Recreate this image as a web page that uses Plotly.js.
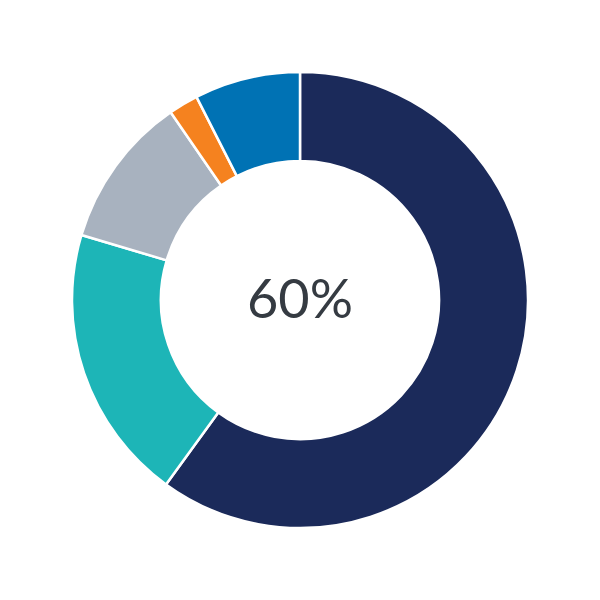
<!DOCTYPE html>
<html>
<head>
<meta charset="utf-8">
<script src="https://cdn.plot.ly/plotly-3.0.1.min.js"></script>
<style>html,body{margin:0;padding:0;background:#fff;}#chart{width:600px;height:600px;}</style>
</head>
<body>
<div id="chart"></div>
<script>
var labels = ["Navy", "Teal", "Gray", "Orange", "Blue"];
var values = [60, 19.6, 10.8, 2.1, 7.5];
var colors = ["#1b2a5a", "#1db5b7", "#a8b2bf", "#f5821f", "#0072b4"];
var centerLabel = "60%";

var data = [{
  type: "pie",
  labels: labels,
  values: values,
  hole: 0.61,
  sort: false,
  direction: "clockwise",
  rotation: 0,
  marker: {colors: colors, line: {color: "#ffffff", width: 2.5}},
  textinfo: "none",
  hoverinfo: "none",
  showlegend: false,
  domain: {x: [0.12, 0.88], y: [0.12, 0.88]}
}];
var layout = {
  width: 600, height: 600,
  margin: {l: 0, r: 0, t: 0, b: 0},
  paper_bgcolor: "#ffffff",
  showlegend: false,
  annotations: [{
    text: centerLabel, x: 0.5, y: 0.5, xref: "paper", yref: "paper",
    showarrow: false, yshift: 3,
    font: {family: "Lato", size: 54, color: "#353b42", weight: 400}
  }]
};
Plotly.newPlot("chart", data, layout, {displayModeBar: false, staticPlot: true});
</script>
</body>
</html>
